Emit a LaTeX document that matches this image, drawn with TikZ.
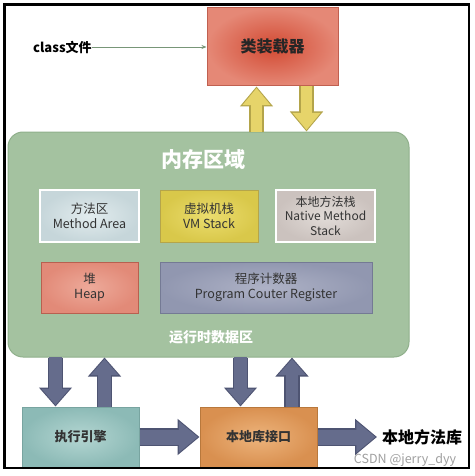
\documentclass[tikz,border=0pt]{standalone}
\usepackage{fontspec}
\setmainfont{Noto Sans CJK SC}
\usetikzlibrary{arrows.meta,calc}
\definecolor{memg}{HTML}{A4C2A0}
\definecolor{memgb}{HTML}{90B08C}
\definecolor{yel}{HTML}{E6D46A}
\definecolor{yelb}{HTML}{B3A44A}
\definecolor{blu}{HTML}{656C8C}
\definecolor{blub}{HTML}{4E5472}
\definecolor{txt}{HTML}{333333}
\definecolor{clin}{HTML}{D24A33}
\definecolor{clout}{HTML}{E58876}
\definecolor{clb}{HTML}{C06050}
\definecolor{main}{HTML}{E2ECEE}
\definecolor{maout}{HTML}{C6D6DA}
\definecolor{vmin}{HTML}{EBDD6E}
\definecolor{vmout}{HTML}{D9C84A}
\definecolor{vmb}{HTML}{B5A54A}
\definecolor{nsin}{HTML}{E2DCD8}
\definecolor{nsout}{HTML}{CBC2BE}
\definecolor{hpin}{HTML}{EDAA9A}
\definecolor{hpout}{HTML}{E28A78}
\definecolor{hpb}{HTML}{B86050}
\definecolor{pcin}{HTML}{AEB2C6}
\definecolor{pcout}{HTML}{9197B0}
\definecolor{pcb}{HTML}{747A94}
\definecolor{eein}{HTML}{B4D6D2}
\definecolor{eeout}{HTML}{8CBAB6}
\definecolor{eeb}{HTML}{78A4A0}
\definecolor{niin}{HTML}{EDB47C}
\definecolor{niout}{HTML}{D99050}
\definecolor{nib}{HTML}{B8783C}
\tikzset{
  box/.style={draw, line width=1pt, inner sep=0pt, align=center, text=txt, font=\fontsize{12}{15}\selectfont},
  yarrowout/.style={line width=14.5pt, draw=yelb, -{Triangle[width=32pt,length=20pt]}},
  yarrowin/.style={line width=11.5pt, draw=yel, shorten >=1.6pt, -{Triangle[width=27pt,length=17pt]}},
  barrowout/.style={line width=15.5pt, draw=blub, -{Triangle[width=32pt,length=19pt]}},
  barrowin/.style={line width=12.5pt, draw=blu, shorten >=1.6pt, -{Triangle[width=27pt,length=16pt]}},
  harrowout/.style={line width=18pt, draw=blub, -{Triangle[width=35pt,length=22pt]}},
  harrowin/.style={line width=15pt, draw=blu, shorten >=1.6pt, -{Triangle[width=30pt,length=19pt]}},
}
\begin{document}
\begin{tikzpicture}[x=1pt,y=-1pt]
\useasboundingbox (0,0) rectangle (474,476);
\fill[white] (0,0) rectangle (474,476);

% class loader
\node[box, minimum width=131pt, minimum height=78pt, inner color=clin, outer color=clout, draw=clb, font=\fontsize{16}{18}\selectfont\bfseries, text=black!85] (cl) at (272.5,47) {类装载器};
\node[font=\fontsize{13}{15}\selectfont\bfseries, inner sep=0pt, anchor=west] (cf) at (33,47) {class文件};
\draw[draw={rgb,255:red,120;green,150;blue,120}, line width=0.8pt, -{Stealth[length=5pt,width=4pt]}] (cf.east) -- (cl.west);

% memory area
\node[draw=memgb, fill=memg, line width=1pt, rounded corners=15pt, minimum width=401pt, minimum height=225pt, inner sep=0pt] (mem) at (208.5,244.5) {};
\node[text=white, font=\fontsize{21}{24}\selectfont\bfseries, inner sep=0pt] (title) at (203,160) {内存区域};
\node[box, minimum width=99pt, minimum height=52pt, inner color=main, outer color=maout, draw=white, line width=1.5pt, font=\fontsize{12.5}{15}\selectfont] (ma) at (89.5,216) {方法区\\Method Area};
\node[box, minimum width=98pt, minimum height=52pt, inner color=vmin, outer color=vmout, draw=vmb, font=\fontsize{12.5}{15}\selectfont] (vm) at (209,216) {虚拟机栈\\VM Stack};
\node[box, minimum width=99pt, minimum height=52pt, inner color=nsin, outer color=nsout, draw=white, line width=1.5pt, font=\fontsize{12}{14.5}\selectfont] (ns) at (325.5,216) {本地方法栈\\Native Method\\Stack};
\node[box, minimum width=97pt, minimum height=51pt, inner color=hpin, outer color=hpout, draw=hpb, font=\fontsize{12.5}{15}\selectfont] (heap) at (89.5,287.5) {堆\\Heap};
\node[box, minimum width=212pt, minimum height=51pt, inner color=pcin, outer color=pcout, draw=pcb, font=\fontsize{12.5}{15}\selectfont] (pc) at (266,287.5) {程序计数器\\Program Couter Register};
\node[text=white, font=\fontsize{14}{16}\selectfont\bfseries, inner sep=0pt] (rt) at (211,337) {运行时数据区};

% yellow arrows
\draw[yarrowout] ([xshift=-16pt]cl.south |- mem.north) -- ([xshift=-16pt]cl.south);
\draw[yarrowin] ([xshift=-16pt,yshift=-0.5pt]cl.south |- mem.north) -- ([xshift=-16pt]cl.south);
\draw[yarrowout] ([xshift=34pt]cl.south) -- ([xshift=34pt]cl.south |- mem.north);
\draw[yarrowin] ([xshift=34pt,yshift=0.5pt]cl.south) -- ([xshift=34pt]cl.south |- mem.north);

% bottom boxes
\node[box, minimum width=117pt, minimum height=60pt, inner color=eein, outer color=eeout, draw=eeb, font=\fontsize{13}{15}\selectfont\bfseries] (ee) at (80.5,437) {执行引擎};
\node[box, minimum width=117pt, minimum height=60pt, inner color=niin, outer color=niout, draw=nib, font=\fontsize{13}{15}\selectfont\bfseries] (ni) at (258.5,437) {本地库接口};
\node[font=\fontsize{16}{18}\selectfont\bfseries, inner sep=0pt, anchor=west] (nl) at (382,437) {本地方法库};
\node[text={rgb,255:red,160;green,160;blue,160}, font=\fontsize{12.5}{14}\selectfont, inner sep=0pt] (csdn) at (405,460) {CSDN @jerry\_dyy};

% blue vertical arrows
\draw[barrowout] ([xshift=-25pt]ee.north |- mem.south) -- ([xshift=-25pt]ee.north);
\draw[barrowin] ([xshift=-25pt,yshift=0.5pt]ee.north |- mem.south) -- ([xshift=-25pt]ee.north);
\draw[barrowout] ([xshift=24pt]ee.north) -- ([xshift=24pt]ee.north |- mem.south);
\draw[barrowin] ([xshift=24pt,yshift=-0.5pt]ee.north) -- ([xshift=24pt]ee.north |- mem.south);
\draw[barrowout] ([xshift=-18pt]ni.north |- mem.south) -- ([xshift=-18pt]ni.north);
\draw[barrowin] ([xshift=-18pt,yshift=0.5pt]ni.north |- mem.south) -- ([xshift=-18pt]ni.north);
\draw[barrowout] ([xshift=33.5pt]ni.north) -- ([xshift=33.5pt]ni.north |- mem.south);
\draw[barrowin] ([xshift=33.5pt,yshift=-0.5pt]ni.north) -- ([xshift=33.5pt]ni.north |- mem.south);

% horizontal arrows
\draw[harrowout] (ee.east) -- (ni.west);
\draw[harrowin] ([xshift=0.5pt]ee.east) -- (ni.west);
\draw[harrowout, shorten >=5pt] (ni.east) -- (nl.west);
\draw[harrowin, shorten >=6.6pt] ([xshift=0.5pt]ni.east) -- (nl.west);

% frame
\draw[line width=2.5pt] (4.5,4.5) rectangle (469,468);
\end{tikzpicture}
\end{document}
